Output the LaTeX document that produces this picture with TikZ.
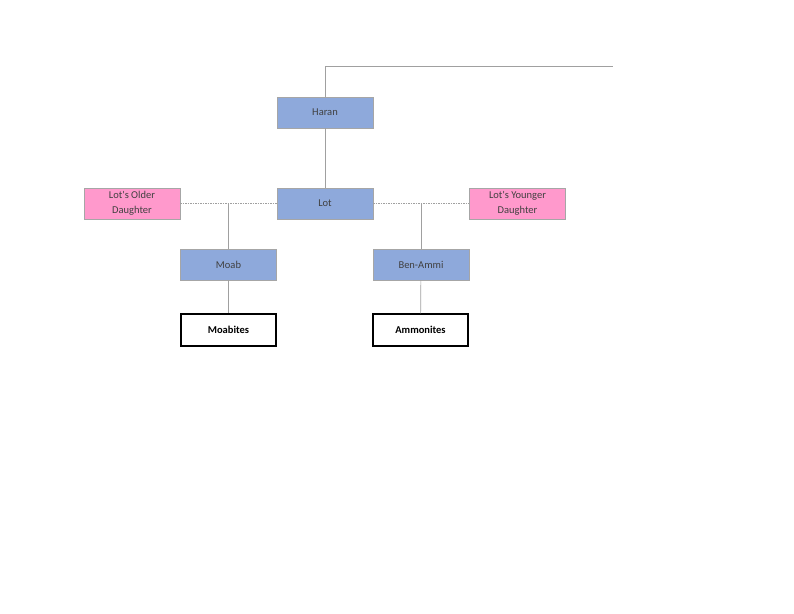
\documentclass[tikz,border=0pt]{standalone}
\usepackage{fontspec}
\setmainfont{Carlito}
\usetikzlibrary{positioning}
\definecolor{personblue}{HTML}{8EA9DB}
\definecolor{daughterpink}{HTML}{FF99CC}
\definecolor{boxedge}{HTML}{A6A6A6}
\definecolor{linkgray}{HTML}{A0A0A0}
\definecolor{textgray}{HTML}{404040}

\begin{document}
\begin{tikzpicture}[x=1pt,y=-1pt,
    person/.style={rectangle,draw=boxedge,fill=personblue,minimum width=96pt,
      minimum height=31pt,inner sep=1pt,align=center,text=textgray,font=\fontsize{10.5}{14.5}\selectfont},
    daughter/.style={person,fill=daughterpink},
    people/.style={rectangle,draw=black,line width=1.4pt,minimum width=95pt,
      minimum height=32pt,font=\bfseries\fontsize{10.5}{13}\selectfont},
    link/.style={draw=linkgray,line width=0.7pt},
    wed/.style={link,dash pattern=on 1.5pt off 1pt,line width=0.5pt}]

  \useasboundingbox (0,0) rectangle (794,613);

  \node[person]   (haran)   at (325,112.5)   {Haran};
  \node[person]   (lot)     at (325,203.5)   {Lot};
  \node[daughter] (older)   at (132,203.5)   {Lot\textquotesingle s Older\\Daughter};
  \node[daughter] (younger) at (517.5,203.5) {Lot\textquotesingle s Younger\\Daughter};
  \node[person]   (moab)    at (228.5,264.5) {Moab};
  \node[person]   (benammi) at (421,264.5)   {Ben-Ammi};
  \node[people]   (moabites)  at (228.5,330) {Moabites};
  \node[people]   (ammonites) at (420.5,330) {Ammonites};

  \coordinate (topend) at (613,66);
  \coordinate (olderjoin)   at (moab.north |- lot.west);
  \coordinate (youngerjoin) at (benammi.north |- lot.east);

  \draw[link] (haran.north) |- (topend);
  \draw[link] (haran) -- (lot);
  \draw[wed] (older) -- (lot);
  \draw[wed] (lot) -- (younger);
  \draw[link] (olderjoin) -- (moab);
  \draw[link] (youngerjoin) -- (benammi);
  \draw[link] (moab) -- (moabites);
  \draw[link] (benammi) -- (ammonites);
\end{tikzpicture}
\end{document}
